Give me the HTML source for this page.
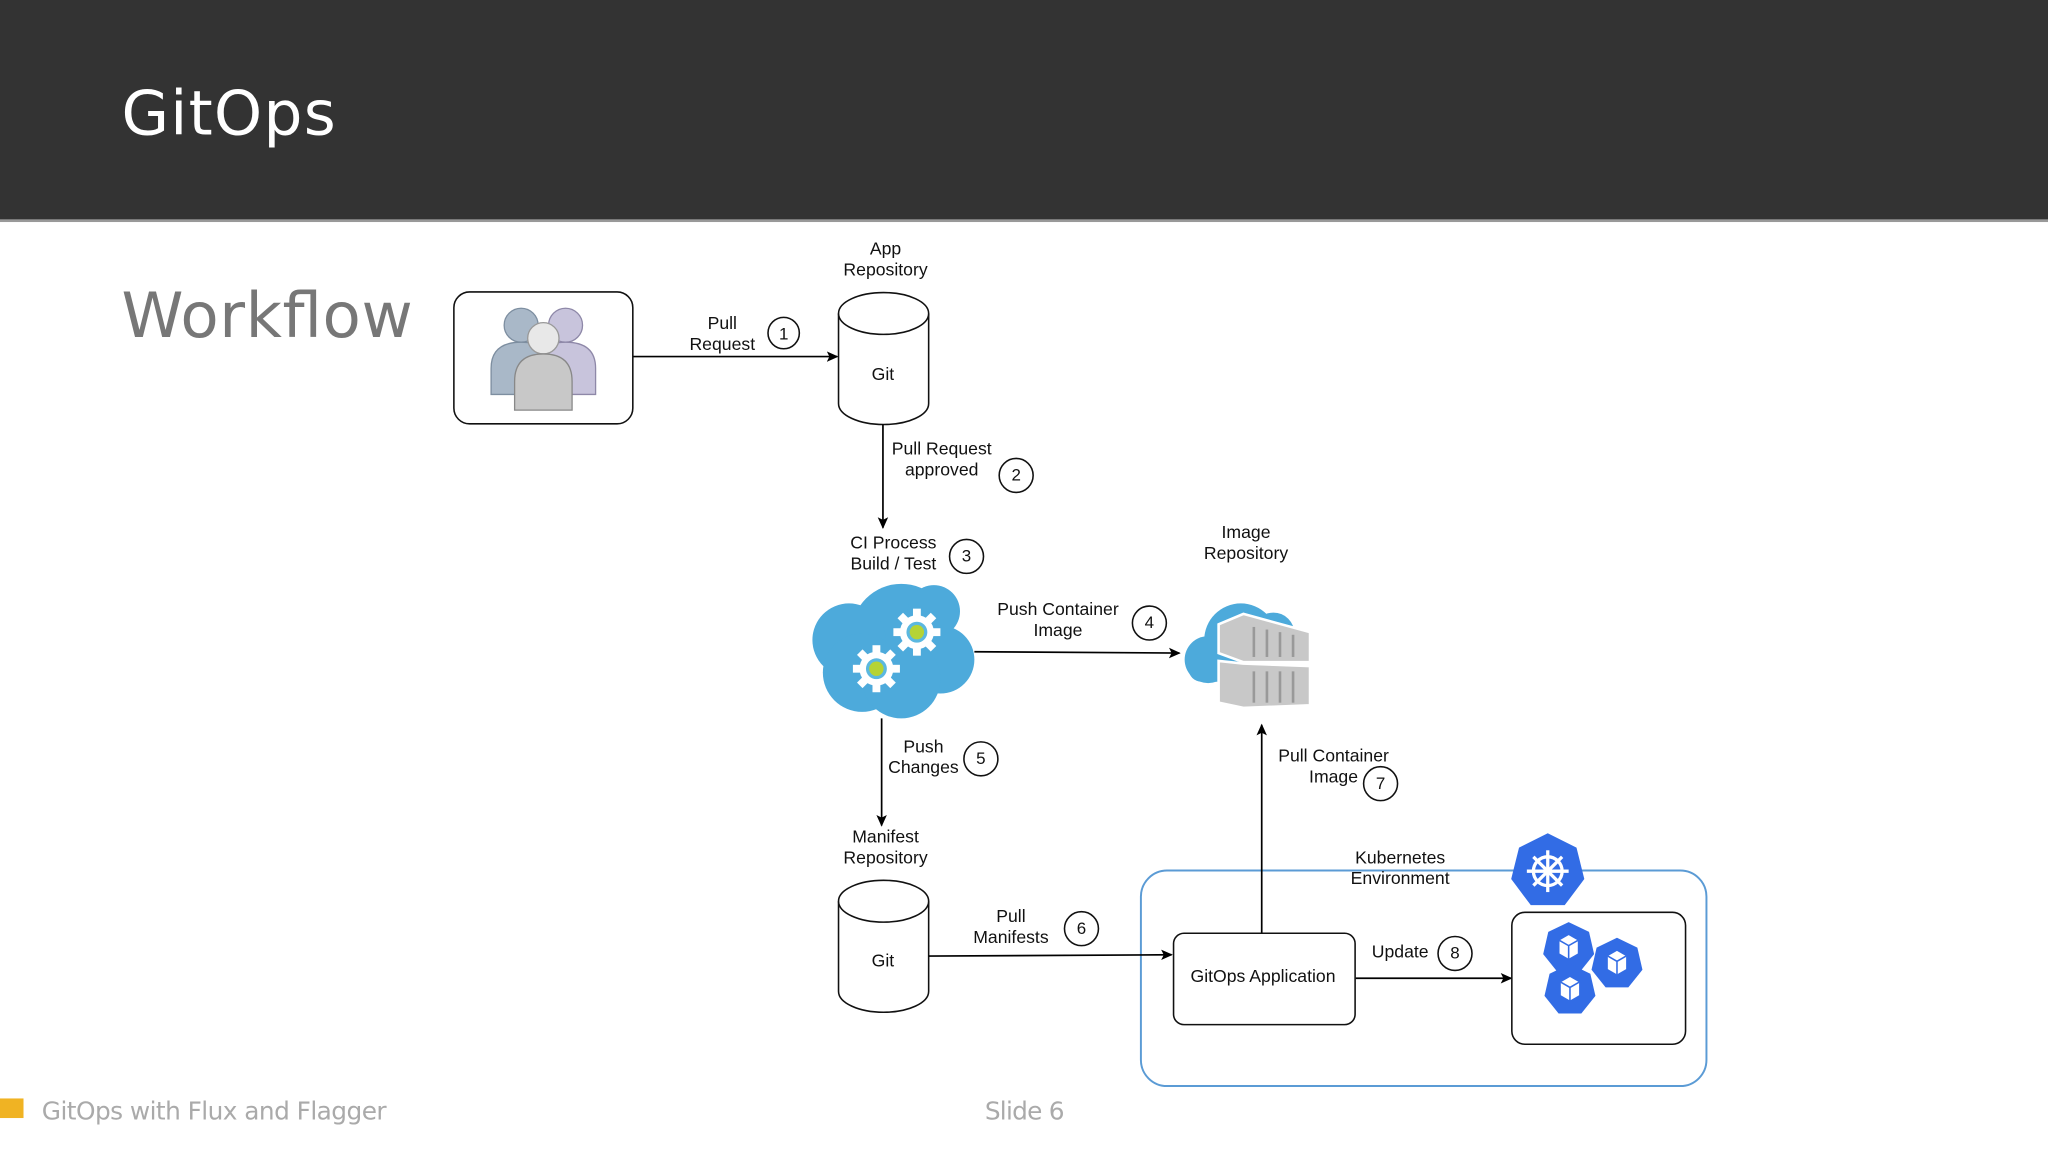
<!DOCTYPE html>
<html><head><meta charset="utf-8"><style>
html,body{margin:0;padding:0;background:#fff;width:2048px;height:1152px;overflow:hidden}
svg{display:block}
.t{font-family:"Liberation Sans",sans-serif;font-size:13.5px;fill:#111;text-anchor:middle}
.c{fill:#fff;stroke:#111;stroke-width:1.2}
.n{font-family:"Liberation Sans",sans-serif;font-size:13px;fill:#111;text-anchor:middle}
</style></head><body>
<svg width="2048" height="1152" viewBox="0 0 1568 882" preserveAspectRatio="none">
<defs>
<marker id="a" markerWidth="10" markerHeight="10" refX="8" refY="5" orient="auto" markerUnits="userSpaceOnUse"><path d="M0,1 L9,5 L0,9 L2,5 Z" fill="#000"/></marker>
<g id="gear"><circle r="13" fill="#fff"/><g fill="#fff"><rect x="-3" y="-18" width="6" height="36"/><rect x="-18" y="-3" width="36" height="6"/><rect x="-3" y="-18" width="6" height="36" transform="rotate(45)"/><rect x="-3" y="-18" width="6" height="36" transform="rotate(-45)"/></g><circle r="8" fill="#5bb8e0"/><circle r="5.5" fill="#b5d334"/></g>
<g id="pod"><polygon points="0,-20 15.6,-12.5 19.5,4.5 8.7,18 -8.7,18 -19.5,4.5 -15.6,-12.5" fill="#326ce5"/><path d="M-7,-6 L0,-10 L7,-6 L7,4 L0,8 L-7,4 Z" fill="#fff"/><path d="M-7,-6 L0,-2 L7,-6 M0,-2 L0,8" stroke="#326ce5" stroke-width="1.2" fill="none"/></g>
</defs>
<rect x="0" y="0" width="1568" height="168" fill="#333"/>
<rect x="0" y="168" width="1568" height="2" fill="#999"/>
<text x="93" y="103" font-family="DejaVu Sans,Liberation Sans,sans-serif" font-size="47" fill="#fff" textLength="164">GitOps</text>
<text x="93" y="258" font-family="DejaVu Sans,Liberation Sans,sans-serif" font-size="48" fill="#777" textLength="223">Workflow</text>
<rect x="0" y="841" width="18" height="15" fill="#f0b323"/>
<text x="32" y="857" font-family="DejaVu Sans,Liberation Sans,sans-serif" font-size="19" fill="#aaa" textLength="264">GitOps with Flux and Flagger</text>
<text x="754" y="857" font-family="DejaVu Sans,Liberation Sans,sans-serif" font-size="19" fill="#aaa" textLength="61">Slide 6</text>

<!-- people -->
<rect x="347.5" y="223.5" width="137" height="101" rx="12" fill="#fff" stroke="#111" stroke-width="1.2"/>
<circle cx="399" cy="249" r="13" fill="#a9b8c8" stroke="#7d8ea0"/>
<path d="M376,302 L376,282 Q376,262 399,262 Q420,262 421,282 L421,302 Z" fill="#a9b8c8" stroke="#7d8ea0"/>
<circle cx="433" cy="249" r="13" fill="#c8c4dc" stroke="#8e88a8"/>
<path d="M411,302 L411,282 Q411,262 433,262 Q456,262 456,282 L456,302 Z" fill="#c8c4dc" stroke="#8e88a8"/>
<circle cx="416" cy="259" r="12" fill="#e8e8e8" stroke="#999"/>
<path d="M394,314 L394,292 Q394,271 416,271 Q438,271 438,292 L438,314 Z" fill="#c8c8c8" stroke="#888"/>

<line x1="485" y1="273" x2="641" y2="273" stroke="#000" stroke-width="1.3" marker-end="url(#a)"/>
<text class="t" x="553" y="252">Pull</text><text class="t" x="553" y="268">Request</text>
<circle class="c" cx="600" cy="255" r="12"/><text class="n" x="600" y="260">1</text>

<!-- git app -->
<path d="M642,240 L642,309 A34.5,16 0 0 0 711,309 L711,240" fill="#fff" stroke="#111" stroke-width="1.2"/>
<ellipse cx="676.5" cy="240" rx="34.5" ry="16" fill="#fff" stroke="#111" stroke-width="1.2"/>
<text class="t" x="676" y="291">Git</text>
<text class="t" x="678" y="195">App</text><text class="t" x="678" y="211">Repository</text>

<line x1="676" y1="325" x2="676" y2="404" stroke="#000" stroke-width="1.3" marker-end="url(#a)"/>
<text class="t" x="721" y="348">Pull Request</text><text class="t" x="721" y="364">approved</text>
<circle class="c" cx="778" cy="364" r="13"/><text class="n" x="778" y="368">2</text>
<text class="t" x="684" y="420">CI Process</text><text class="t" x="684" y="436">Build / Test</text>
<circle class="c" cx="740" cy="426" r="13"/><text class="n" x="740" y="430">3</text>

<!-- CI cloud -->
<g fill="#4daadb">
<circle cx="690" cy="485" r="38"/><circle cx="650" cy="490" r="28"/><circle cx="720" cy="505" r="26"/><circle cx="660" cy="515" r="30"/><circle cx="690" cy="520" r="30"/><circle cx="715" cy="468" r="20"/>
</g>
<use href="#gear" x="702" y="484"/>
<use href="#gear" x="671" y="512"/>

<line x1="746" y1="499" x2="903" y2="500" stroke="#000" stroke-width="1.3" marker-end="url(#a)"/>
<text class="t" x="810" y="471">Push Container</text><text class="t" x="810" y="487">Image</text>
<circle class="c" cx="880" cy="477" r="13"/><text class="n" x="880" y="481">4</text>

<!-- image repo -->
<g fill="#4daadb"><circle cx="950" cy="490" r="28"/><circle cx="925" cy="505" r="18"/><circle cx="975" cy="485" r="16"/><rect x="910" y="500" width="60" height="22" rx="10"/></g>
<path d="M933,478 L952,470 L1003,484 L1003,507 L952,507 L933,500 Z" fill="#c8c8c8" stroke="#fff" stroke-width="2"/>
<path d="M933,506 L952,508 L1003,510 L1003,540 L952,542 L933,538 Z" fill="#c8c8c8" stroke="#fff" stroke-width="2"/>
<g stroke="#999" stroke-width="2"><line x1="960" y1="480" x2="960" y2="503"/><line x1="970" y1="482" x2="970" y2="503"/><line x1="980" y1="484" x2="980" y2="503"/><line x1="990" y1="486" x2="990" y2="503"/><line x1="960" y1="514" x2="960" y2="538"/><line x1="970" y1="514" x2="970" y2="538"/><line x1="980" y1="514" x2="980" y2="538"/><line x1="990" y1="514" x2="990" y2="538"/></g>
<text class="t" x="954" y="412">Image</text><text class="t" x="954" y="428">Repository</text>

<line x1="675" y1="550" x2="675" y2="632" stroke="#000" stroke-width="1.3" marker-end="url(#a)"/>
<text class="t" x="707" y="576">Push</text><text class="t" x="707" y="592">Changes</text>
<circle class="c" cx="751" cy="581" r="13"/><text class="n" x="751" y="585">5</text>
<text class="t" x="678" y="645">Manifest</text><text class="t" x="678" y="661">Repository</text>

<path d="M642,690 L642,759 A34.5,16 0 0 0 711,759 L711,690" fill="#fff" stroke="#111" stroke-width="1.2"/>
<ellipse cx="676.5" cy="690" rx="34.5" ry="16" fill="#fff" stroke="#111" stroke-width="1.2"/>
<text class="t" x="676" y="740">Git</text>

<!-- k8s env -->
<rect x="873.5" y="666.5" width="433" height="165" rx="20" fill="none" stroke="#5b9bd5" stroke-width="1.5"/>
<text class="t" x="1072" y="661">Kubernetes</text><text class="t" x="1072" y="677">Environment</text>

<line x1="711" y1="732" x2="897" y2="731" stroke="#000" stroke-width="1.3" marker-end="url(#a)"/>
<text class="t" x="774" y="706">Pull</text><text class="t" x="774" y="722">Manifests</text>
<circle class="c" cx="828" cy="711" r="13"/><text class="n" x="828" y="715">6</text>

<rect x="898.5" y="714.5" width="139" height="70" rx="8" fill="#fff" stroke="#111" stroke-width="1.2"/>
<text class="t" x="967" y="752">GitOps Application</text>

<line x1="966" y1="714" x2="966" y2="555" stroke="#000" stroke-width="1.3" marker-end="url(#a)"/>
<text class="t" x="1021" y="583">Pull Container</text><text class="t" x="1021" y="599">Image</text>
<circle class="c" cx="1057" cy="600" r="13"/><text class="n" x="1057" y="604">7</text>

<line x1="1038" y1="749" x2="1157" y2="749" stroke="#000" stroke-width="1.3" marker-end="url(#a)"/>
<text class="t" x="1072" y="733">Update</text>
<circle class="c" cx="1114" cy="730" r="13"/><text class="n" x="1114" y="734">8</text>

<rect x="1157.5" y="698.5" width="133" height="101" rx="10" fill="#fff" stroke="#111" stroke-width="1.2"/>
<use href="#pod" x="1201" y="726"/>
<use href="#pod" x="1238" y="738"/>
<use href="#pod" x="1202" y="758"/>

<!-- k8s logo -->
<polygon points="1185,638 1207,649 1213,673 1198,693 1172,693 1157,673 1163,649" fill="#326ce5"/>
<g stroke="#fff" stroke-width="2.5" fill="none"><circle cx="1185" cy="667" r="11"/>
<line x1="1185" y1="651" x2="1185" y2="683"/><line x1="1169" y1="667" x2="1201" y2="667"/><line x1="1174" y1="656" x2="1196" y2="678"/><line x1="1196" y1="656" x2="1174" y2="678"/></g>
</svg>
</body></html>
